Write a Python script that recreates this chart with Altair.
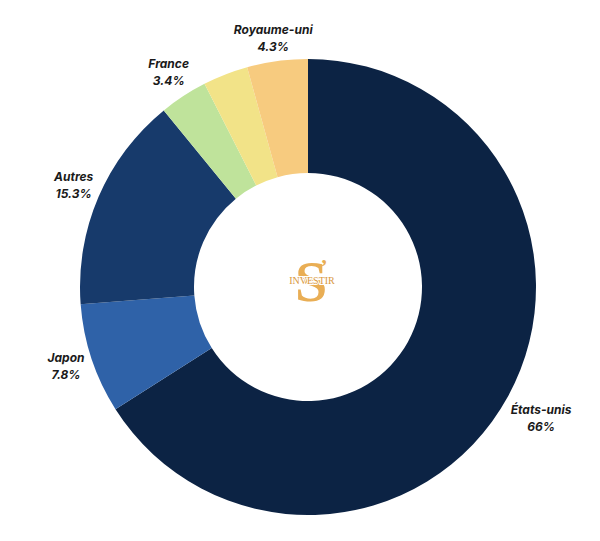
import altair as alt
import pandas as pd

# Slices run clockwise from twelve o'clock
PAYS = ["États-unis", "Japon", "Autres", "France", "Autre pays", "Royaume-uni"]
PARTS = [66, 7.8, 15.3, 3.4, 3.2, 4.3]
ETIQUETTES = ["66%", "7.8%", "15.3%", "3.4%", "", "4.3%"]
COULEURS = ["#0c2344", "#2f62a8", "#173a6b", "#bfe39b", "#f2e388", "#f7cb7f"]

INK = "#1a1a1a"
GOLD = "#e9ae55"
FONT = "Inter"
CX, CY = 300, 279

df = pd.DataFrame({"pays": PAYS, "part": PARTS, "etiquette": ETIQUETTES})
df["rang"] = range(len(df))

theta = alt.Theta("part:Q", stack=True)
order = alt.Order("rang:O")
base = alt.Chart(df).encode(theta=theta, order=order, x=alt.value(CX), y=alt.value(CY))

arcs = base.mark_arc(outerRadius=228, innerRadius=114).encode(
    color=alt.Color(
        "pays:N",
        sort=PAYS,
        scale=alt.Scale(domain=PAYS, range=COULEURS),
        legend=None,
    )
)


def etiquettes(groupe, rayon, decalage):
    # text stays empty outside the group so the stack keeps every slice
    champ = "texte_" + groupe[0]
    df[champ] = [f"{p}\n{e}" if p in groupe else "" for p, e in zip(PAYS, ETIQUETTES)]
    return (
        alt.Chart(df)
        .encode(theta=theta, order=order, x=alt.value(CX), y=alt.value(CY))
        .mark_text(
            radius=rayon,
            dy=decalage,
            font=FONT,
            fontSize=12,
            fontWeight="bold",
            fontStyle="italic",
            color=INK,
            lineBreak="\n",
            lineHeight=16.5,
        )
        .encode(text=f"{champ}:N")
    )


logo = alt.Chart(pd.DataFrame({"a": [0]}))
logo_s = logo.mark_text(
    text="S", font="Liberation Serif", fontSize=58, fontWeight="bold", color=GOLD, align="center", baseline="middle"
).encode(x=alt.value(303), y=alt.value(276))
logo_apos = logo.mark_text(
    text="’", font="Liberation Serif", fontSize=22, fontWeight="bold", color=GOLD, align="center", baseline="middle"
).encode(x=alt.value(316), y=alt.value(259))
logo_halo = logo.mark_text(
    text="INVESTIR",
    font="Liberation Serif",
    fontSize=10,
    color="#ffffff",
    stroke="#ffffff",
    strokeWidth=2,
    align="center",
    baseline="middle",
).encode(x=alt.value(304), y=alt.value(273))
logo_nom = logo.mark_text(
    text="INVESTIR",
    font="Liberation Serif",
    fontSize=10,
    color="#d9983f",
    align="center",
    baseline="middle",
).encode(x=alt.value(304), y=alt.value(273))

chart = (
    alt.layer(
        arcs,
        etiquettes(["Royaume-uni"], 258, -1),
        etiquettes(["France", "Autres", "Japon"], 255, -9),
        etiquettes(["États-unis"], 266, -5),
        logo_s,
        logo_apos,
        logo_halo,
        logo_nom,
    )
    .properties(width=584, height=525, padding=0, autosize=alt.AutoSizeParams(type="none"), background="#ffffff")
    .configure_view(stroke=None)
)

chart.save("out.html", embed_options={"renderer": "svg", "actions": False})
